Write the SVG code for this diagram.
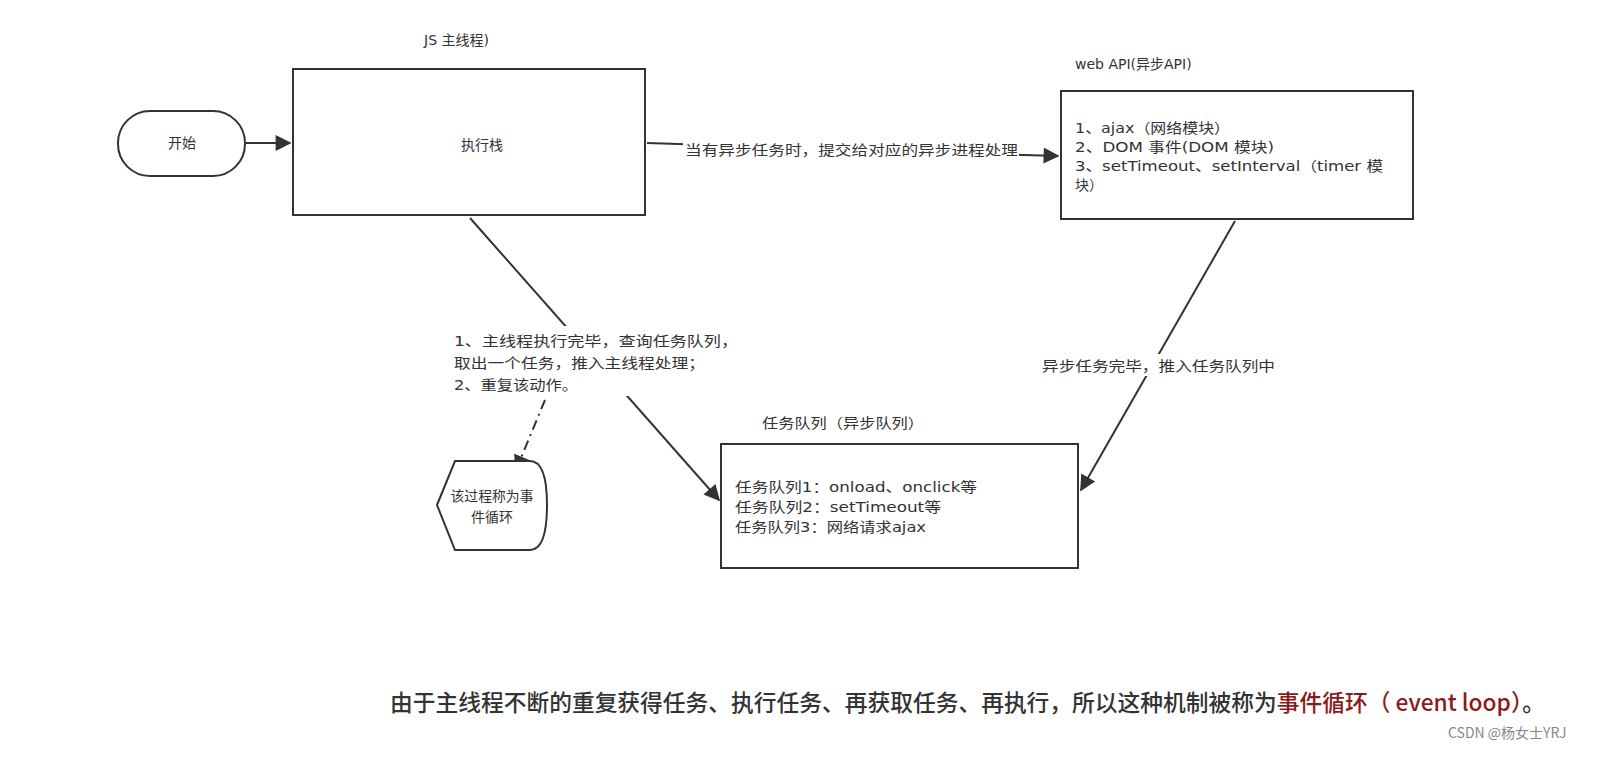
<svg xmlns="http://www.w3.org/2000/svg" width="1607" height="768" viewBox="0 0 1607 768">
<defs>
<style>
.t{font-family:"DejaVu Sans","Noto Sans CJK SC",sans-serif;font-size:14px;fill:#333}
.box{fill:#fff;stroke:#333;stroke-width:2}
.ln{stroke:#333;stroke-width:2;fill:none}
</style>
<marker id="a2" viewBox="0 0 10 10" refX="9" refY="5" markerWidth="20" markerHeight="16" orient="auto" markerUnits="userSpaceOnUse"><path d="M0,0L10,5L0,10z" fill="#333"/></marker>
</defs>
<rect width="1607" height="768" fill="#fff"/>
<g id="connectors">
<line class="ln" x1="246" y1="143" x2="290" y2="143" marker-end="url(#a2)"/>
<line class="ln" x1="647" y1="143" x2="1058" y2="156" marker-end="url(#a2)"/>
<line class="ln" x1="470" y1="218" x2="719" y2="500" marker-end="url(#a2)"/>
<line class="ln" x1="1235" y1="221" x2="1081" y2="490" marker-end="url(#a2)"/>
<line class="ln" x1="545" y1="400" x2="516" y2="470" stroke-dasharray="10,5,2,5" marker-end="url(#a2)"/>
<rect x="683" y="138" width="336" height="22" fill="#fff"/>
<text class="t" x="685" y="155" textLength="333" lengthAdjust="spacingAndGlyphs">当有异步任务时，提交给对应的异步进程处理</text>
<rect x="450" y="326" width="290" height="70" fill="#fff"/>
<text class="t" x="454" y="346" textLength="284" lengthAdjust="spacingAndGlyphs">1、主线程执行完毕，查询任务队列，</text>
<text class="t" x="454" y="368" textLength="251" lengthAdjust="spacingAndGlyphs">取出一个任务，推入主线程处理；</text>
<text class="t" x="454" y="390" textLength="124" lengthAdjust="spacingAndGlyphs">2、重复该动作。</text>
<rect x="1040" y="354" width="238" height="22" fill="#fff"/>
<text class="t" x="1042" y="371" textLength="233" lengthAdjust="spacingAndGlyphs">异步任务完毕，推入任务队列中</text>
</g>
<g id="start"><rect class="box" x="118" y="111" width="127" height="65" rx="32"/><text class="t" x="182" y="148" text-anchor="middle">开始</text></g>
<g id="stack"><text class="t" x="424" y="45">JS 主线程)</text><rect class="box" x="293" y="69" width="352" height="146"/><text class="t" x="482" y="150" text-anchor="middle">执行栈</text></g>
<g id="webapi"><text class="t" x="1075" y="69">web API(异步API)</text><rect class="box" x="1061" y="91" width="352" height="128"/>
<text class="t" x="1075" y="133" textLength="155" lengthAdjust="spacingAndGlyphs">1、ajax（网络模块）</text>
<text class="t" x="1075" y="152" textLength="199" lengthAdjust="spacingAndGlyphs">2、DOM 事件(DOM 模块)</text>
<text class="t" x="1075" y="171" textLength="308" lengthAdjust="spacingAndGlyphs">3、setTimeout、setInterval（timer 模</text>
<text class="t" x="1075" y="190">块）</text></g>
<g id="loop"><path class="box" d="M437,505L455,461H530Q547,461 547,505Q547,550 530,550H455Z"/><text class="t" x="492" y="501" text-anchor="middle" textLength="83" lengthAdjust="spacingAndGlyphs">该过程称为事</text><text class="t" x="492" y="522" text-anchor="middle">件循环</text></g>
<g id="queue"><text class="t" x="762" y="428" textLength="162" lengthAdjust="spacingAndGlyphs">任务队列（异步队列）</text><rect class="box" x="721" y="444" width="357" height="124"/>
<text class="t" x="735" y="492" textLength="242" lengthAdjust="spacingAndGlyphs">任务队列1：onload、onclick等</text>
<text class="t" x="735" y="512" textLength="206" lengthAdjust="spacingAndGlyphs">任务队列2：setTimeout等</text>
<text class="t" x="735" y="532" textLength="191" lengthAdjust="spacingAndGlyphs">任务队列3：网络请求ajax</text></g>
<text x="390" y="711" textLength="1155" lengthAdjust="spacingAndGlyphs" style="font-family:'Noto Sans CJK SC',sans-serif;font-size:23px;font-weight:500;fill:#333">由于主线程不断的重复获得任务、执行任务、再获取任务、再执行，所以这种机制被称为<tspan fill="#8b1a1a">事件循环（ event loop）</tspan>。</text>
<text x="1448" y="738" style="font-family:'Noto Sans CJK SC',sans-serif;font-size:14px;fill:#888">CSDN @杨女士YRJ</text>
</svg>
